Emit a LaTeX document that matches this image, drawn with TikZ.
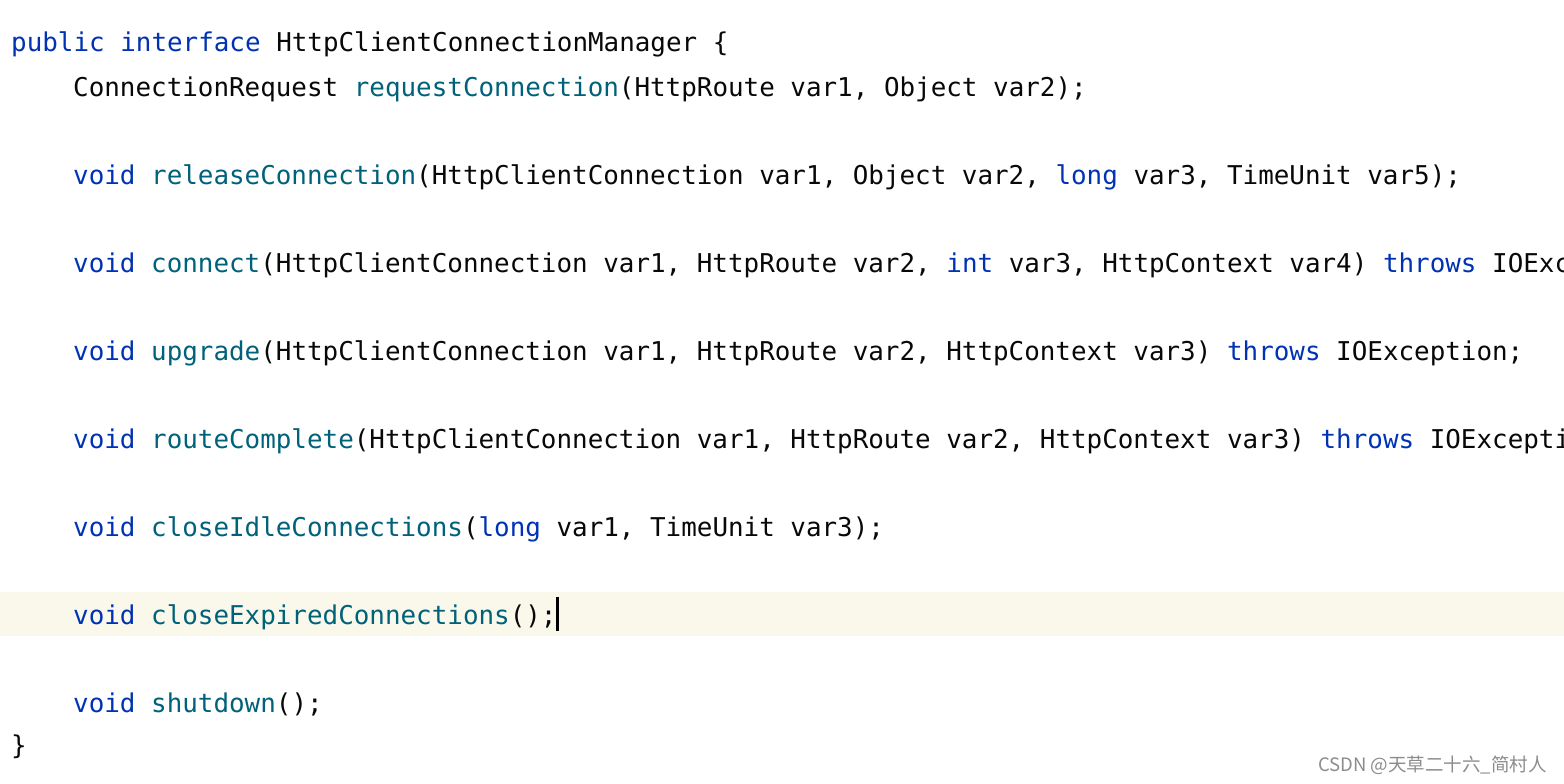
\documentclass[tikz,border=0pt]{standalone}
\usepackage{fontspec}
\setmonofont{DejaVu Sans Mono}
\newfontfamily\cjk{Noto Sans CJK SC}
\definecolor{kw}{HTML}{0033B3}
\definecolor{mt}{HTML}{00627A}
\definecolor{tx}{HTML}{080808}
\definecolor{hl}{HTML}{FAF8EA}
\newcommand{\K}[1]{\textcolor{kw}{#1}}
\newcommand{\M}[1]{\textcolor{mt}{#1}}
\tikzset{code/.style={anchor=base west,inner sep=0pt,font=\ttfamily\fontsize{25.9}{26}\selectfont,text=tx}}
\begin{document}
\begin{tikzpicture}[x=1pt,y=-1pt]
\useasboundingbox (0,0) rectangle (1564,784);
\clip (0,0) rectangle (1564,784);
\fill[white] (0,0) rectangle (1564,784);
\fill[hl] (0,592) rectangle (1564,636);
\node[code] (l1) at (11,52) {\K{public} \K{interface} HttpClientConnectionManager \{};
\node[code] (l2) at (73,96) {ConnectionRequest \M{requestConnection}(HttpRoute var1, Object var2);};
\node[code] (l3) at (73,184) {\K{void} \M{releaseConnection}(HttpClientConnection var1, Object var2, \K{long} var3, TimeUnit var5);};
\node[code] (l4) at (73,272) {\K{void} \M{connect}(HttpClientConnection var1, HttpRoute var2, \K{int} var3, HttpContext var4) \K{throws} IOException;};
\node[code] (l5) at (73,360) {\K{void} \M{upgrade}(HttpClientConnection var1, HttpRoute var2, HttpContext var3) \K{throws} IOException;};
\node[code] (l6) at (73,448) {\K{void} \M{routeComplete}(HttpClientConnection var1, HttpRoute var2, HttpContext var3) \K{throws} IOException;};
\node[code] (l7) at (73,536) {\K{void} \M{closeIdleConnections}(\K{long} var1, TimeUnit var3);};
\node[code] (l8) at (73,624) {\K{void} \M{closeExpiredConnections}();};
\fill[black] (555.5,597) rectangle (558.5,631);
\node[code] (l9) at (73,712) {\K{void} \M{shutdown}();};
\node[code] (l10) at (11,754) {\}};
\node[anchor=east,inner sep=0pt,font=\cjk\fontsize{18.5}{19}\selectfont,text=black!45] (wm) at (1547,765) {CSDN @天草二十六\_简村人};
\end{tikzpicture}
\end{document}
